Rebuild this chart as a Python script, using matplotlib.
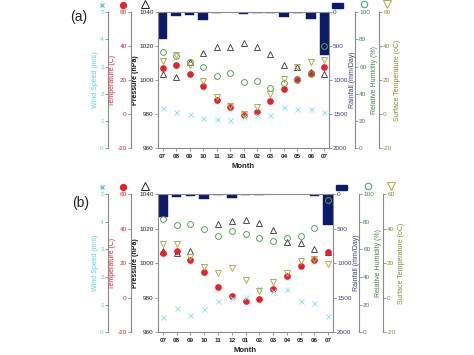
import matplotlib
matplotlib.use('Agg')
import matplotlib.pyplot as plt
import numpy as np
from matplotlib.lines import Line2D
from matplotlib.patches import Rectangle

plt.rcParams['font.family'] = ['Liberation Sans', 'DejaVu Sans']
plt.rcParams['axes.unicode_minus'] = False

months = ['07', '08', '09', '10', '11', '12', '01', '02', '03', '04', '05', '06', '07']

# ---- panel (a) ----
rain_a = [391, 59, 49, 117, 8, 5, 24, 15, 15, 69, 20, 98, 627]
pres_a = [1003.8, 1002.1, 1010.5, 1015.9, 1019.5, 1019.5, 1021.8, 1019.7, 1015.5, 1008.9, 1008.0, 1005.0, 1003.6]
temp_a = [27.1, 28.7, 23.8, 16.7, 8.2, 4.1, -0.6, 1.3, 7.6, 15.0, 20.5, 24.0, 27.7]
rh_a = [70.9, 68.0, 63.6, 59.9, 52.8, 55.0, 48.6, 49.6, 44.2, 47.9, 50.0, 54.5, 75.3]
st_a = [31.4, 34.6, 29.1, 19.7, 9.9, 4.6, 0.4, 4.1, 11.9, 20.9, 28.0, 30.8, 31.6]
ws_a = [1.48, 1.33, 1.24, 1.11, 1.07, 1.03, 1.14, 1.23, 1.21, 1.50, 1.45, 1.44, 1.33]

# ---- panel (b) ----
rain_b = [328, 48, 29, 72, 14, 62, 10, 14, 0, 0, 0, 33, 444]
pres_b = [1007.2, 1005.7, 1006.9, np.nan, 1022.8, 1024.4, 1025.0, 1023.0, 1019.4, 1012.3, 1011.7, 1008.0, 1006.5]
temp_b = [25.7, 26.9, 21.8, 14.9, 6.4, 1.0, -2.1, -0.6, 5.2, 12.7, 18.4, 22.0, 26.5]
rh_b = [82.1, 77.6, 78.5, 74.9, 69.8, 73.5, 71.3, 68.4, 66.2, 68.0, 69.6, 75.2, 95.7]
st_b = [30.9, 30.9, 23.5, 17.6, 14.1, 17.0, 10.1, 4.1, 9.3, 14.5, 21.2, 22.3, 19.7]
ws_b = [0.54, 0.87, 0.61, 0.85, 1.13, 1.25, 1.29, 1.61, 1.49, 1.58, 1.12, 1.05, 0.60]

C_WS_LAB = '#4fd9e6'
C_WS = '#8de6ee'
C_T = '#e8202a'
C_P = '#333333'
C_RAIN = '#0c1a6a'
C_RAIN_LAB = '#3a3d8f'
C_RH_LAB = '#3f8a3f'
C_RH = '#55a455'
C_ST_LAB = '#8a8a2c'
C_ST = '#b5ac4c'
C_SPINE = '#8a8a8a'

W, H = 474, 355
fig = plt.figure(figsize=(W / 100, H / 100), dpi=100)
PT = 72 / 100.0  # points per pixel

TICK_FS = 4.6
LAB_FS = 5.0


def style_y(a, side, color):
    a.tick_params(axis='y', which='both', direction='out', length=2, width=0.6,
                  colors=C_SPINE, labelcolor=color, labelsize=TICK_FS, pad=1,
                  left=(side == 'left'), right=(side == 'right'),
                  labelleft=(side == 'left'), labelright=(side == 'right'))
    a.yaxis.set_ticks_position(side)
    a.yaxis.set_label_position(side)
    for s in ['top', 'bottom', 'left', 'right']:
        a.spines[s].set_visible(s == side)
    a.spines[side].set_color(C_SPINE)
    a.spines[side].set_linewidth(0.8)
    a.patch.set_visible(False)


def sym(x, y, **kw):
    fig.add_artist(Line2D([x / W], [1 - y / H], transform=fig.transFigure,
                          linestyle='none', **kw))


def panel(box, label, label_xy, rain, pres, temp, rh, st, ws):
    l, r, t, b = box
    x = np.arange(len(months))
    ax = fig.add_axes([l / W, 1 - b / H, (r - l) / W, (b - t) / H])
    ax.patch.set_visible(False)
    ax.set_zorder(2)
    for s in ax.spines.values():
        s.set_color(C_SPINE)
        s.set_linewidth(0.8)
    ax.set_xlim(-0.35, 12.35)
    ax.set_xticks(x)
    ax.set_xticklabels(months, fontsize=4.6, fontweight='bold')
    ax.tick_params(axis='x', direction='out', length=2, width=0.6, colors=C_SPINE,
                   labelcolor='#222222', pad=2)
    ax.set_xlabel('Month', fontsize=5.6, fontweight='bold', labelpad=3, color='#222222')
    # pressure (main left)
    ax.set_ylim(960, 1040)
    ax.set_yticks([960, 980, 1000, 1020, 1040])
    ax.tick_params(axis='y', direction='out', length=2, width=0.6, colors=C_SPINE,
                   labelcolor='#222222', labelsize=TICK_FS, pad=1)
    ax.set_ylabel('Pressure (hPa)', fontsize=LAB_FS, color='#111111', labelpad=0.5,
                  fontweight='bold')

    # rainfall (right, inverted)
    ar = ax.twinx()
    ar.set_zorder(1)
    style_y(ar, 'right', C_RAIN_LAB)
    ar.spines['right'].set_visible(False)
    ar.set_ylim(2000, 0)
    ar.set_yticks([0, 500, 1000, 1500, 2000])
    ar.bar(x, rain, width=0.7, color=C_RAIN, edgecolor=C_RAIN, linewidth=0.3)
    ar.set_ylabel('Rainfall (mm/Day)', fontsize=LAB_FS, color=C_RAIN_LAB, labelpad=1)

    # temperature (left, outward)
    at = ax.twinx()
    at.set_zorder(3)
    style_y(at, 'left', C_T)
    at.spines['left'].set_position(('outward', 27 * PT))
    at.set_ylim(-20, 60)
    at.set_yticks([-20, 0, 20, 40, 60])
    at.set_ylabel('Temperature (C)', fontsize=LAB_FS, color=C_T, labelpad=1)

    # wind speed (left, outward)
    aw = ax.twinx()
    aw.set_zorder(3)
    style_y(aw, 'left', C_WS_LAB)
    aw.spines['left'].set_position(('outward', 50 * PT))
    aw.set_ylim(0, 5)
    aw.set_yticks([0, 1, 2, 3, 4, 5])
    aw.set_ylabel('Wind Speed (m/s)', fontsize=LAB_FS, color=C_WS_LAB, labelpad=1)

    # relative humidity (right, outward)
    ah = ax.twinx()
    ah.set_zorder(3)
    style_y(ah, 'right', C_RH_LAB)
    ah.spines['right'].set_position(('outward', 26 * PT))
    ah.set_ylim(0, 100)
    ah.set_yticks([0, 20, 40, 60, 80, 100])
    ah.set_ylabel('Relative Humidity (%)', fontsize=LAB_FS, color=C_RH_LAB, labelpad=1)

    # surface temperature (right, outward)
    a_s = ax.twinx()
    a_s.set_zorder(3)
    style_y(a_s, 'right', C_ST_LAB)
    a_s.spines['right'].set_position(('outward', 50 * PT))
    a_s.set_ylim(-20, 60)
    a_s.set_yticks([-20, 0, 20, 40, 60])
    a_s.set_ylabel('Surface Temperature (oC)', fontsize=LAB_FS, color=C_ST_LAB, labelpad=1)

    # markers
    ax.plot(x, pres, linestyle='none', marker='^', ms=4.2, mfc='none', mec=C_P, mew=0.6,
            clip_on=False)
    aw.plot(x, ws, linestyle='none', marker='x', ms=3.6, color=C_WS, mew=0.7)
    ah.plot(x, rh, linestyle='none', marker='o', ms=4.2, mfc='none', mec=C_RH, mew=0.7)
    a_s.plot(x, st, linestyle='none', marker='v', ms=4.2, mfc='none', mec=C_ST, mew=0.7)
    at.plot(x, temp, linestyle='none', marker='o', ms=3.8, color=C_T, mec=C_T)

    # symbols above axes
    ys = t - 7
    sym(l - 56, ys, marker='x', ms=3.4, color='#3bb8d8', mew=0.8)
    sym(l - 35, ys, marker='o', ms=4.2, color=C_T)
    sym(l - 13, ys - 1, marker='^', ms=5.2, mfc='none', mec='#222222', mew=0.7)
    fig.add_artist(Rectangle(((r + 3) / W, 1 - (ys + 3) / H), 11 / W, 5 / H,
                             transform=fig.transFigure, color=C_RAIN))
    sym(r + 35, ys - 1, marker='o', ms=4.6, mfc='none', mec='#3fae6e', mew=0.8)
    sym(r + 58, ys - 1, marker='v', ms=5.2, mfc='none', mec=C_ST, mew=0.8)

    fig.text(label_xy[0] / W, 1 - label_xy[1] / H, label, fontsize=10,
             ha='center', va='center', color='#222222')


panel((158, 329, 12, 148.3), '(a)', (79, 17), rain_a, pres_a, temp_a, rh_a, st_a, ws_a)
panel((158, 333, 194, 332.3), '(b)', (81, 203), rain_b, pres_b, temp_b, rh_b, st_b, ws_b)

fig.savefig('out.png', dpi=100)
